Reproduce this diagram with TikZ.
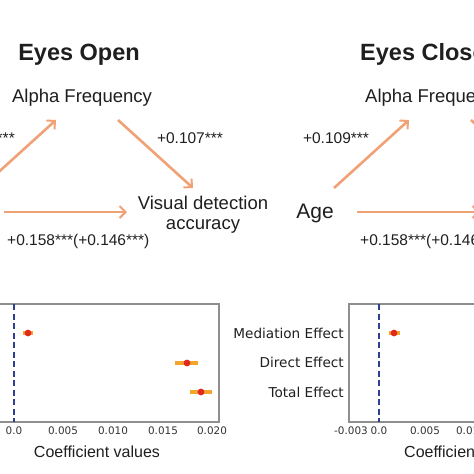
\documentclass[tikz,border=0pt]{standalone}
\usepackage{fontspec}
\setmainfont{Liberation Sans}
\newfontfamily\djv{DejaVu Sans}
\usetikzlibrary{arrows.meta}
\definecolor{arrowc}{HTML}{F0A276}
\definecolor{barc}{HTML}{F5A62A}
\definecolor{dotc}{HTML}{E02A1E}
\definecolor{zeroc}{HTML}{2F3E8E}
\definecolor{framec}{HTML}{8E8E8E}
\definecolor{tickc}{HTML}{333333}

\begin{document}
\begin{tikzpicture}[x=1pt, y=-1pt,
    arr/.style={draw=arrowc, line width=2.6pt, -{Straight Barb[length=6pt,width=12pt,line width=2pt]}},
    title/.style={inner sep=0pt, anchor=base, font=\fontsize{23.5}{26}\selectfont\bfseries, text=black!88},
    var/.style={inner sep=0pt, font=\fontsize{18.5}{20}\selectfont, text=black!88},
    coef/.style={inner sep=0pt, font=\fontsize{15.5}{17}\selectfont, text=black!88},
    tick/.style={inner sep=0pt, anchor=base, font=\djv\fontsize{10.4}{12}\selectfont, text=tickc},
    effect/.style={inner sep=0pt, anchor=base east, font=\djv\fontsize{13.6}{15}\selectfont, text=black!88},
    axlabel/.style={inner sep=0pt, font=\fontsize{16}{18}\selectfont, text=black!88},
    frame/.style={draw=framec, line width=1.3pt},
    zero/.style={draw=zeroc, line width=1.8pt, dash pattern=on 6pt off 3.5pt},
    ci/.style={draw=barc, line width=3.8pt},
  ]
  \clip (0,0) rectangle (474,474);
  \fill[white] (0,0) rectangle (474,474);

  % Eyes open: path diagram
  \node[title] (openT) at (79,60) {Eyes Open};
  \node[var, anchor=base] (alphaL) at (82,102) {Alpha Frequency};
  \node[var, align=center, anchor=base] (vdaL) at (203,229) {Visual detection\\accuracy};
  \node[coef, anchor=base] (bL) at (190,143) {+0.107***};
  \node[coef, anchor=base east] (aL) at (15,143) {***};
  \node[coef, anchor=base west] (cL) at (7,245) {+0.158***(+0.146***)};

  \coordinate (ageL-a) at (-19,188);
  \coordinate (alphaL-in) at (56,120);
  \coordinate (alphaL-out) at (118,120);
  \coordinate (vdaL-in) at (193,188);
  \coordinate (ageL-c) at (4,212);
  \coordinate (vdaL-c) at (127,212);

  \draw[arr] (ageL-a) -- (alphaL-in);
  \draw[arr] (alphaL-out) -- (vdaL-in);
  \draw[arr] (ageL-c) -- (vdaL-c);

  % Eyes closed: path diagram
  \node[title, anchor=base west] (closedT) at (360,60) {Eyes Closed};
  \node[var, anchor=base west] (alphaR) at (365,102) {Alpha Frequency};
  \node[var, anchor=base, font=\fontsize{21}{23}\selectfont] (ageR) at (315,218) {Age};
  \node[coef, anchor=base] (aR) at (336,143) {+0.109***};
  \node[coef, anchor=base west] (cR) at (360,245) {+0.158***(+0.146***)};

  \coordinate (ageR-a) at (334,188);
  \coordinate (alphaR-in) at (409,120);
  \coordinate (alphaR-out) at (471,120);
  \coordinate (vdaR-in) at (546,188);
  \coordinate (ageR-c) at (357,212);
  \coordinate (vdaR-c) at (480,212);

  \draw[arr] (ageR-a) -- (alphaR-in);
  \draw[arr] (alphaR-out) -- (vdaR-in);
  \draw[arr] (ageR-c) -- (vdaR-c);

  % Eyes open: coefficient plot
  \draw[frame] (-20,304) rectangle (219,422);
  \draw[zero] (14,304) -- (14,422);
  \foreach \x/\t in {14/0.0, 63/0.005, 113/0.010, 163/0.015, 212/0.020}
    \node[tick] at (\x,434) {\t};
  \draw[ci] (23,333) -- (33,333);
  \fill[dotc] (28,333) circle (3.4pt);
  \draw[ci] (175,363) -- (198,363);
  \fill[dotc] (187,363) circle (3.4pt);
  \draw[ci] (190,392) -- (212,392);
  \fill[dotc] (201,392) circle (3.4pt);
  \node[axlabel, anchor=base] (xlabL) at (97,457) {Coefficient values};

  % Eyes closed: coefficient plot
  \node[effect] (medR) at (344,338) {Mediation Effect};
  \node[effect] (dirR) at (344,367) {Direct Effect};
  \node[effect] (totR) at (344,397) {Total Effect};
  \draw[frame] (349,304) rectangle (520,422);
  \draw[zero] (379,304) -- (379,422);
  \foreach \x/\t in {351/-0.003, 379/0.0, 425/0.005, 471/0.010}
    \node[tick] at (\x,434) {\t};
  \draw[ci] (389,333) -- (400,333);
  \fill[dotc] (394,333) circle (3.4pt);
  \node[axlabel, anchor=base west] (xlabR) at (404,457) {Coefficient values};
\end{tikzpicture}
\end{document}
